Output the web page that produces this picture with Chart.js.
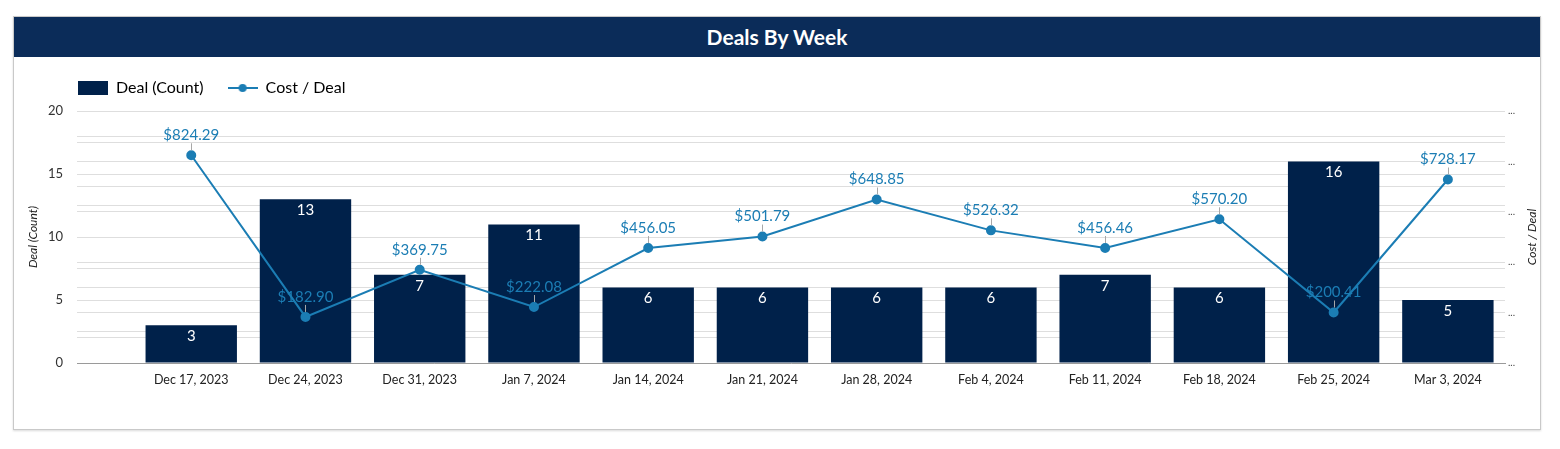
<!DOCTYPE html>
<html>
<head>
<meta charset="utf-8">
<script src="https://cdn.jsdelivr.net/npm/chart.js@4.4.1/dist/chart.umd.min.js"></script>
<style>
    body { margin: 0; background: #ffffff; font-family: Lato, sans-serif; }
    .painel {
        position: absolute; left: 13px; top: 16px; width: 1526px; height: 412px;
        border: 1px solid #c9c9c9; box-shadow: 0 1px 2px rgba(0,0,0,0.15); background: #fff;
    }
    .cabecalho {
        height: 40px; background: #0b2c59; color: #fff; text-align: center;
        font: bold 21px Lato, sans-serif; line-height: 40px;
    }
    #grafico { display: block; }
</style>
</head>
<body>
<div class="painel">
    <div class="cabecalho">Deals By Week</div>
    <canvas id="grafico" width="1526" height="372"></canvas>
</div>
<script>
const weeks = ['Dec 17, 2023', 'Dec 24, 2023', 'Dec 31, 2023', 'Jan 7, 2024', 'Jan 14, 2024', 'Jan 21, 2024',
    'Jan 28, 2024', 'Feb 4, 2024', 'Feb 11, 2024', 'Feb 18, 2024', 'Feb 25, 2024', 'Mar 3, 2024'];
const dealCounts = [3, 13, 7, 11, 6, 6, 6, 6, 7, 6, 16, 5];
const costPerDeal = [824.29, 182.90, 369.75, 222.08, 456.05, 501.79, 648.85, 526.32, 456.46, 570.20, 200.41, 728.17];

const barColor = '#00214a';
const lineColor = '#1b7db4';
const gridColor = '#dedede';

// legend swatches
function swatchBar() {
    var c = document.createElement('canvas');
    c.width = 30; c.height = 14;
    var g = c.getContext('2d');
    g.fillStyle = barColor;
    g.fillRect(0, 0, 30, 14);
    return c;
}
function swatchLine() {
    var c = document.createElement('canvas');
    c.width = 30; c.height = 14;
    var g = c.getContext('2d');
    g.strokeStyle = lineColor; g.lineWidth = 2;
    g.beginPath(); g.moveTo(0, 7); g.lineTo(30, 7); g.stroke();
    g.fillStyle = lineColor;
    g.beginPath(); g.arc(15, 7, 4, 0, Math.PI * 2); g.fill();
    return c;
}

const legendShift = {
    id: 'legendShift',
    beforeInit(chart) {
        var lg = chart.legend;
        var fit = lg.fit, draw = lg.draw;
        lg.fit = function () { fit.call(this); this.height += 4; };
        lg.draw = function () {
            var c = this.ctx;
            c.save(); c.translate(40, -1);
            draw.call(this);
            c.restore();
        };
    }
};

const valueLabels = {
    id: 'valueLabels',
    afterDatasetsDraw(chart) {
        var ctx = chart.ctx;
        ctx.save();
        ctx.textAlign = 'center';
        ctx.textBaseline = 'middle';
        ctx.font = '15px Lato';
        chart.getDatasetMeta(1).data.forEach(function (bar, i) {
            ctx.fillStyle = '#ffffff';
            ctx.fillText(String(dealCounts[i]), bar.x, bar.y + 11);
        });
        chart.getDatasetMeta(0).data.forEach(function (pt, i) {
            ctx.strokeStyle = '#a8a8a8'; ctx.lineWidth = 1;
            ctx.beginPath();
            ctx.moveTo(Math.round(pt.x) + 0.5, pt.y - 5);
            ctx.lineTo(Math.round(pt.x) + 0.5, pt.y - 12);
            ctx.stroke();
            ctx.fillStyle = lineColor;
            ctx.fillText('$' + costPerDeal[i].toFixed(2), pt.x, pt.y - 20);
        });
        var y1 = chart.scales.y1;
        ctx.translate(y1.right - 8, (chart.chartArea.top + chart.chartArea.bottom) / 2);
        ctx.rotate(-Math.PI / 2);
        ctx.font = 'italic 12px Lato';
        ctx.fillStyle = '#222222';
        ctx.fillText('Cost / Deal', 0, 0);
        ctx.restore();
    }
};

var contexto = document.getElementById('grafico').getContext('2d');
var grafico = new Chart(contexto, {
    type: 'bar',
    data: {
        datasets: [{
            type: 'line',
            label: 'Cost / Deal',
            data: costPerDeal.map(function (v, i) { return { x: i, y: v }; }),
            yAxisID: 'y1',
            borderColor: lineColor,
            backgroundColor: lineColor,
            borderWidth: 2,
            pointRadius: 4,
            pointHoverRadius: 4,
            tension: 0,
            order: 0
        }, {
            type: 'bar',
            label: 'Deal (Count)',
            data: dealCounts.map(function (v, i) { return { x: i, y: v }; }),
            yAxisID: 'y',
            backgroundColor: barColor,
            categoryPercentage: 1,
            barPercentage: 0.8,
            order: 1
        }]
    },
    options: {
        responsive: false,
        devicePixelRatio: 1,
        animation: false,
        layout: { padding: 0 },
        plugins: {
            tooltip: { enabled: false },
            legend: {
                position: 'top',
                align: 'start',
                labels: {
                    usePointStyle: true,
                    pointStyleWidth: 30,
                    padding: 24,
                    color: '#222222',
                    font: { family: 'Lato', size: 16 },
                    generateLabels: function () {
                        return [
                            { text: 'Deal (Count)', pointStyle: swatchBar(), fillStyle: barColor, strokeStyle: barColor, lineWidth: 0, datasetIndex: 1 },
                            { text: 'Cost / Deal', pointStyle: swatchLine(), fillStyle: lineColor, strokeStyle: lineColor, lineWidth: 0, datasetIndex: 0 }
                        ];
                    }
                }
            }
        },
        scales: {
            x: {
                type: 'linear',
                min: -1,
                max: 11.5,
                offset: false,
                grid: { display: false, drawTicks: false },
                border: { display: true, color: '#9a9a9a' },
                ticks: {
                    stepSize: 1,
                    includeBounds: false,
                    autoSkip: false,
                    maxRotation: 0,
                    padding: 9,
                    color: '#222222',
                    font: { family: 'Lato', size: 12.5 },
                    callback: function (v) {
                        return (Number.isInteger(v) && v >= 0 && v < weeks.length) ? weeks[v] : '';
                    }
                },
                afterFit: function (s) { s.height = 66; }
            },
            y: {
                position: 'left',
                min: 0,
                max: 20,
                grid: { color: gridColor, drawTicks: false },
                border: { display: false },
                ticks: {
                    stepSize: 2.5,
                    padding: 14,
                    color: '#333333',
                    font: { family: 'Lato', size: 13 },
                    callback: function (v) { return v % 5 === 0 ? String(v) : ''; }
                },
                title: {
                    display: true,
                    text: 'Deal (Count)',
                    color: '#222222',
                    font: { family: 'Lato', size: 12, style: 'italic' },
                    padding: { top: 12, bottom: 0 }
                },
                afterFit: function (s) { s.width = 63; }
            },
            y1: {
                position: 'right',
                min: 0,
                max: 1000,
                grid: { color: gridColor, drawTicks: false },
                border: { display: false },
                ticks: {
                    stepSize: 100,
                    padding: 3,
                    color: '#444444',
                    font: { family: 'Lato', size: 10 },
                    callback: function (v) { return v % 200 === 0 ? '...' : ''; }
                },
                afterFit: function (s) { s.width = 35; }
            }
        }
    },
    plugins: [legendShift, valueLabels]
});
</script>
</body>
</html>
